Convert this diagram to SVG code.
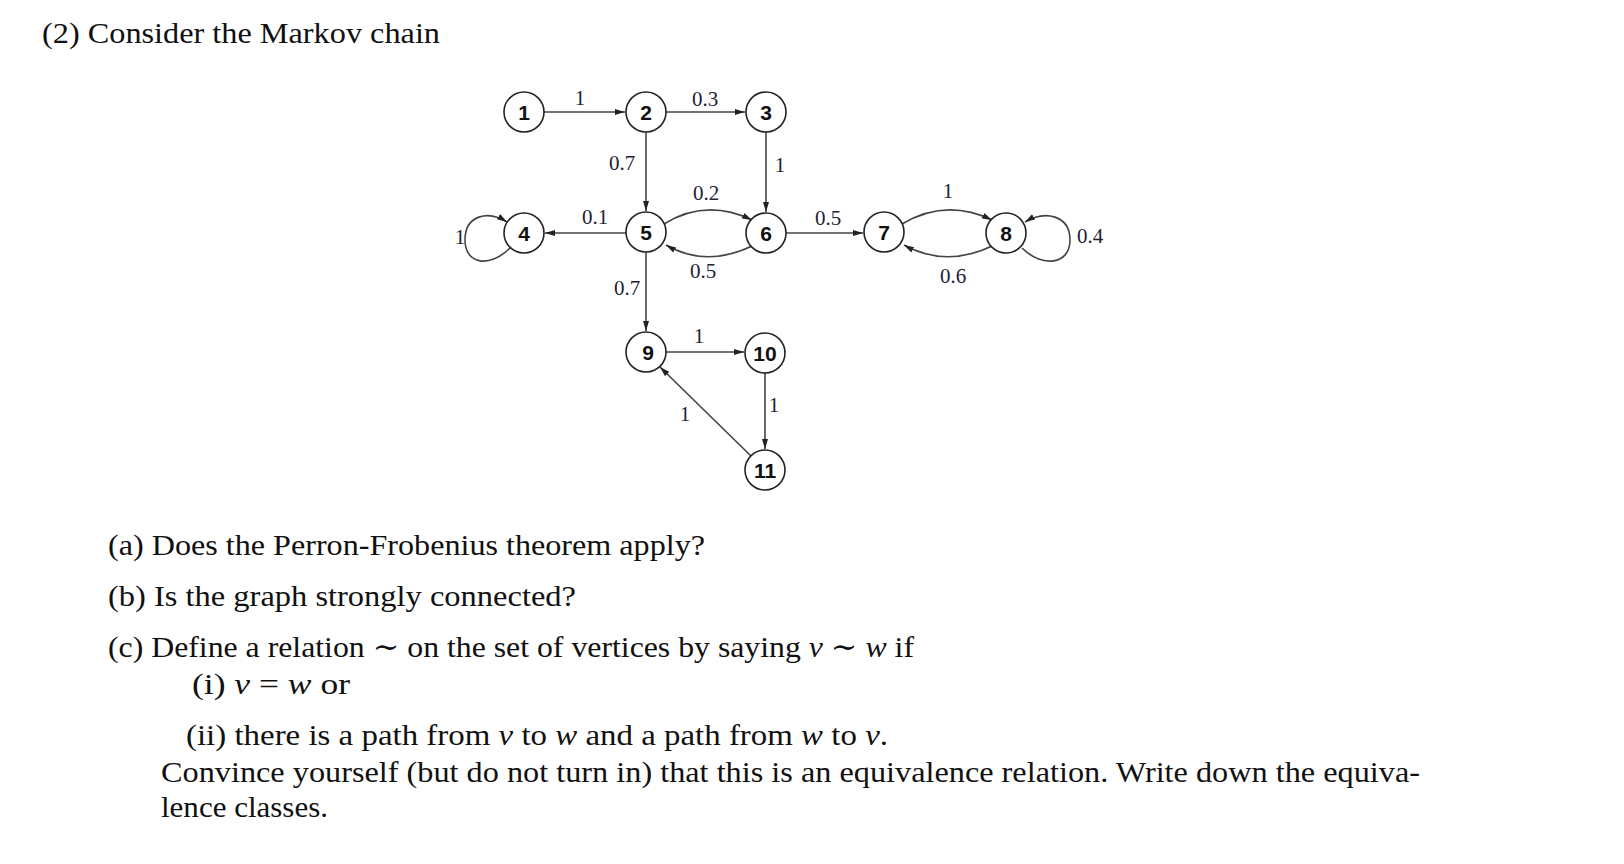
<svg xmlns="http://www.w3.org/2000/svg" width="1624" height="864" viewBox="0 0 1624 864">
<style>
.n circle{fill:#fff;stroke:#222;stroke-width:1.6}
.n text{font-family:"Liberation Sans",Arial,sans-serif;font-weight:bold;font-size:21px;text-anchor:middle;fill:#111}
#edges path,#edges line{stroke:#444;stroke-width:1.6;fill:none}
.l{font-family:"Liberation Serif",serif;font-size:21px;fill:#223;text-anchor:middle}
.t{font-family:"Liberation Serif","DejaVu Serif",serif;font-size:30px;fill:#111}
.i{font-style:italic}
</style>
<defs><marker id="a" markerWidth="10" markerHeight="8" refX="10" refY="4" orient="auto" markerUnits="userSpaceOnUse"><path d="M0,1 L10,4 L0,7 Z" fill="#222"/></marker></defs>
<rect width="1624" height="864" fill="#fff"/>
<text class="t" x="42" y="43" textLength="398" lengthAdjust="spacingAndGlyphs">(2)  Consider the Markov chain</text>
<g id="edges">
<line x1="544" y1="112" x2="625" y2="112" marker-end="url(#a)"/>
<line x1="666" y1="112" x2="745" y2="112" marker-end="url(#a)"/>
<line x1="646" y1="132" x2="646" y2="211" marker-end="url(#a)"/>
<line x1="766" y1="132" x2="766" y2="212" marker-end="url(#a)"/>
<line x1="626" y1="233" x2="545" y2="233" marker-end="url(#a)"/>
<path d="M664,224 Q706,198 752,220" marker-end="url(#a)"/>
<path d="M752,246 Q706,268 666,245" marker-end="url(#a)"/>
<line x1="786" y1="233" x2="863" y2="233" marker-end="url(#a)"/>
<path d="M902,224 Q946,198 992,220" marker-end="url(#a)"/>
<path d="M992,246 Q946,268 904,245" marker-end="url(#a)"/>
<path d="M510,248 C490,268 465,265 465,240 C465,215 488,210 507,222" marker-end="url(#a)"/>
<path d="M1022,248 C1042,268 1070,265 1070,240 C1070,215 1045,210 1025,222" marker-end="url(#a)"/>
<line x1="646" y1="252" x2="646" y2="331" marker-end="url(#a)"/>
<line x1="666" y1="352" x2="744" y2="352" marker-end="url(#a)"/>
<line x1="765" y1="373" x2="765" y2="449" marker-end="url(#a)"/>
<line x1="751" y1="456" x2="660" y2="367" marker-end="url(#a)"/>
</g>
<g class="l">
<text x="580" y="105">1</text><text x="705" y="106">0.3</text>
<text x="622" y="170">0.7</text><text x="780" y="172">1</text>
<text x="706" y="200">0.2</text><text x="595" y="224">0.1</text>
<text x="828" y="225">0.5</text><text x="948" y="198">1</text>
<text x="703" y="278">0.5</text><text x="953" y="283">0.6</text>
<text x="460" y="244">1</text><text x="1090" y="243">0.4</text>
<text x="627" y="295">0.7</text><text x="699" y="343">1</text>
<text x="774" y="412">1</text><text x="685" y="421">1</text>
</g>
<g id="n1" class="n"><circle cx="524" cy="112" r="20"/><text x="524" y="120">1</text></g>
<g id="n2" class="n"><circle cx="646" cy="112" r="20"/><text x="646" y="120">2</text></g>
<g id="n3" class="n"><circle cx="766" cy="112" r="20"/><text x="766" y="120">3</text></g>
<g id="n4" class="n"><circle cx="524" cy="233" r="20"/><text x="524" y="241">4</text></g>
<g id="n5" class="n"><circle cx="646" cy="232" r="20"/><text x="646" y="240">5</text></g>
<g id="n6" class="n"><circle cx="766" cy="233" r="20"/><text x="766" y="241">6</text></g>
<g id="n7" class="n"><circle cx="884" cy="232" r="20"/><text x="884" y="240">7</text></g>
<g id="n8" class="n"><circle cx="1006" cy="233" r="20"/><text x="1006" y="241">8</text></g>
<g id="n9" class="n"><circle cx="646" cy="352" r="20"/><text x="648" y="360">9</text></g>
<g id="n10" class="n"><circle cx="765" cy="353" r="20"/><text x="765" y="361">10</text></g>
<g id="n11" class="n"><circle cx="765" cy="470" r="20"/><text x="765" y="478">11</text></g>
<text class="t" x="108" y="555" textLength="597" lengthAdjust="spacingAndGlyphs">(a)  Does the Perron-Frobenius theorem apply?</text>
<text class="t" x="108" y="606" textLength="468" lengthAdjust="spacingAndGlyphs">(b)  Is the graph strongly connected?</text>
<text class="t" x="108" y="657" textLength="806" lengthAdjust="spacingAndGlyphs">(c)  Define a relation ∼ on the set of vertices by saying <tspan class="i">v</tspan> ∼ <tspan class="i">w</tspan> if</text>
<text class="t" x="192" y="694" textLength="158" lengthAdjust="spacingAndGlyphs">(i)  <tspan class="i">v</tspan> = <tspan class="i">w</tspan> or</text>
<text class="t" x="186" y="745" textLength="702" lengthAdjust="spacingAndGlyphs">(ii)  there is a path from <tspan class="i">v</tspan> to <tspan class="i">w</tspan> and a path from <tspan class="i">w</tspan> to <tspan class="i">v</tspan>.</text>
<text class="t" x="161" y="782" textLength="1259" lengthAdjust="spacingAndGlyphs">Convince yourself (but do not turn in) that this is an equivalence relation. Write down the equiva-</text>
<text class="t" x="161" y="817" textLength="167" lengthAdjust="spacingAndGlyphs">lence classes.</text>
</svg>
